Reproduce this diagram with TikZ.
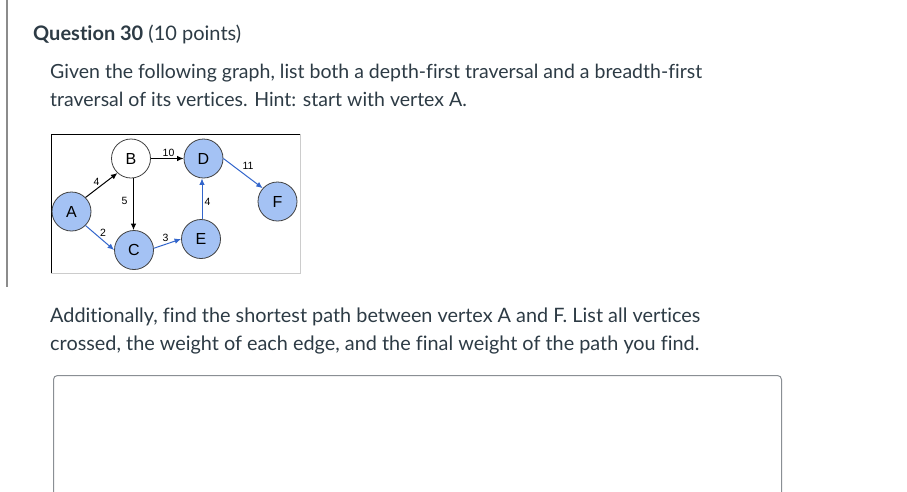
\documentclass[tikz,border=0pt]{standalone}
\usepackage{fontspec}
\setmainfont{Lato}[Ligatures=CommonOff]
\newfontfamily\graphfont{Liberation Sans}
\usetikzlibrary{arrows.meta}
\definecolor{txt}{HTML}{2D3B45}
\definecolor{nodefill}{HTML}{A4C2F4}
\definecolor{edgeblue}{HTML}{3366CC}
\definecolor{boxgray}{HTML}{8A8F94}
\tikzset{
  vtx/.style={circle, draw=black!75, line width=0.8pt, fill=nodefill, minimum size=39pt, inner sep=0pt, font=\graphfont\fontsize{16}{16}\selectfont},
  wvtx/.style={vtx, fill=white},
  blk/.style={-{Latex[length=6.5pt,width=5.5pt]}, line width=1pt, black},
  blu/.style={-{Latex[length=6.5pt,width=5.5pt]}, line width=1pt, edgeblue},
  wlab/.style={font=\graphfont\fontsize{10.5}{10.5}\selectfont, inner sep=0pt},
  body/.style={anchor=base west, inner sep=0pt, text=txt, font=\fontsize{19.5}{28}\selectfont},
  bodyb/.style={body, font=\fontsize{19.85}{28}\selectfont},
}
\begin{document}
\begin{tikzpicture}[x=1pt,y=-1pt]
\useasboundingbox (0,0) rectangle (907,491);
\fill[white] (0,0) rectangle (907,491);
% left rule
\draw[line width=2pt, draw=black!45] (7,0) -- (7,287);
% heading
\node[body, font=\fontsize{20}{24}\selectfont] (q) at (33,40) {\textbf{Question 30} (10 points)};
\node[body] (t1) at (50,78) {Given the following graph, list both a depth-first traversal and a breadth-first};
\node[body] (t2) at (50,106) {traversal of its vertices. Hint: start with vertex A.};
% graph frame
\draw[line width=0.8pt, black] (51,273) -- (51,134) -- (300.5,134);
\draw[line width=0.8pt, black!20] (51,273) -- (300.5,273) -- (300.5,134);
% nodes
\node[vtx] (A) at (71.5,211.5) {A};
\node[wvtx] (B) at (131,158.5) {B};
\node[vtx] (D) at (203.5,158.5) {D};
\node[vtx] (F) at (277.5,201.5) {F};
\node[vtx] (C) at (134,250) {C};
\node[vtx] (E) at (201,239) {E};
% edges
\draw[blk] (A.45) -- (B.227);
\draw[blu] (A.-45) -- (C.west);
\draw[blk] (B) -- (D);
\draw[blk] (B.south -| 133.5,0) -- (C.north -| 133.5,0);
\draw[blu] (C.5) -- (E.west);
\draw[blu] (E.north -| 202,0) -- (D.south -| 202,0);
\draw[blu] (D.east) -- (F.138);
% weights
\node[wlab] (w1) at (96.5,181.5) {4};
\node[wlab] (w2) at (103,232.5) {2};
\node[wlab] (w3) at (168.5,152.5) {10};
\node[wlab] (w4) at (124.5,200.5) {5};
\node[wlab] (w5) at (165.5,237.5) {3};
\node[wlab] (w6) at (207.5,201.5) {4};
\node[wlab] (w7) at (248,166) {11};
% second text
\node[bodyb] (t3) at (50,322) {Additionally, find the shortest path between vertex A and F. List all vertices};
\node[bodyb] (t4) at (50,350) {crossed, the weight of each edge, and the final weight of the path you find.};
% answer box
\begin{scope}
\clip (0,0) rectangle (907,491);
\draw[line width=1pt, draw=boxgray, rounded corners=4pt] (53.5,520) -- (53.5,375.5) -- (781.5,375.5) -- (781.5,520);
\end{scope}
\end{tikzpicture}
\end{document}
